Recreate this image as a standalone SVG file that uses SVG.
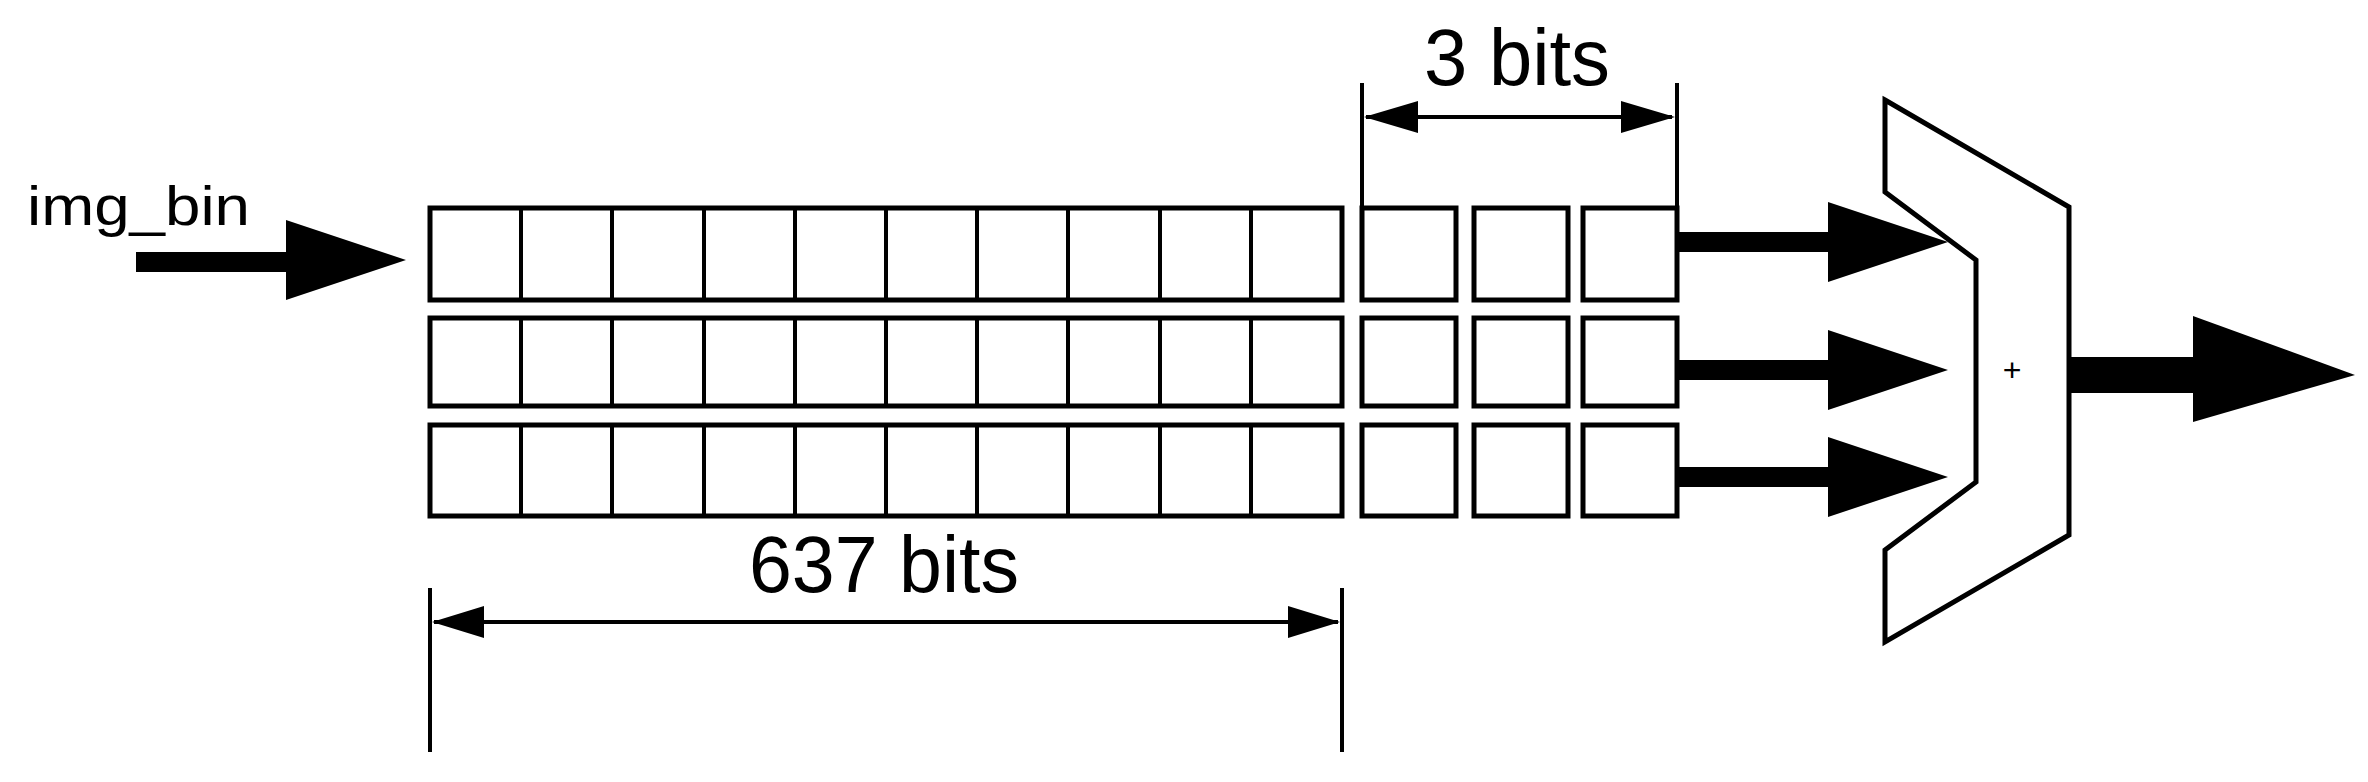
<svg xmlns="http://www.w3.org/2000/svg" width="2368" height="782" viewBox="0 0 2368 782">
<style>
.c{fill:#fff;stroke:#000;stroke-width:5}
.l{stroke:#000;stroke-width:4;fill:none}
.t{font-family:"Liberation Sans",Arial,sans-serif;fill:#000}
</style>
<defs>
<g id="row">
<rect class="c" x="430" y="0" width="912" height="1"/>
</g>
</defs>
<rect width="2368" height="782" fill="#fff"/>
<g id="register">
<rect class="c" x="430" y="208" width="912" height="92"/>
<rect class="c" x="430" y="318" width="912" height="88"/>
<rect class="c" x="430" y="425" width="912" height="91"/>
<path class="l" d="M521,208V300M612,208V300M704,208V300M795,208V300M886,208V300M977,208V300M1068,208V300M1160,208V300M1251,208V300
M521,318V406M612,318V406M704,318V406M795,318V406M886,318V406M977,318V406M1068,318V406M1160,318V406M1251,318V406
M521,425V516M612,425V516M704,425V516M795,425V516M886,425V516M977,425V516M1068,425V516M1160,425V516M1251,425V516"/>
</g>
<g id="last3">
<rect class="c" x="1362" y="208" width="94" height="92"/>
<rect class="c" x="1474" y="208" width="94" height="92"/>
<rect class="c" x="1583" y="208" width="94" height="92"/>
<rect class="c" x="1362" y="318" width="94" height="88"/>
<rect class="c" x="1474" y="318" width="94" height="88"/>
<rect class="c" x="1583" y="318" width="94" height="88"/>
<rect class="c" x="1362" y="425" width="94" height="91"/>
<rect class="c" x="1474" y="425" width="94" height="91"/>
<rect class="c" x="1583" y="425" width="94" height="91"/>
</g>
<g id="adder">
<polygon class="c" points="1885,100 2069,207 2069,535 1885,642 1885,550 1976,482 1976,260 1885,192"/>
<text class="t" x="2012" y="381" font-size="32" text-anchor="middle">+</text>
</g>
<g id="labels">
<text class="t" x="27" y="225" font-size="56" textLength="223" lengthAdjust="spacingAndGlyphs">img_bin</text>
<text class="t" x="1517" y="85" font-size="80" text-anchor="middle" textLength="186" lengthAdjust="spacingAndGlyphs">3 bits</text>
<text class="t" x="884" y="592" font-size="80" text-anchor="middle" textLength="270" lengthAdjust="spacingAndGlyphs">637 bits</text>
</g>
<g id="connectors">
<rect x="136" y="252" width="152" height="20"/>
<polygon points="286,220 406,260 286,300"/>
<rect x="1677" y="232" width="153" height="20"/>
<polygon points="1828,202 1948,242 1828,282"/>
<rect x="1677" y="360" width="153" height="20"/>
<polygon points="1828,330 1948,370 1828,410"/>
<rect x="1677" y="467" width="153" height="20"/>
<polygon points="1828,437 1948,477 1828,517"/>
<rect x="2069" y="357" width="126" height="36"/>
<polygon points="2193,316 2355,375 2193,422"/>
<path class="l" d="M1362,83V208M1677,83V208M1366,117H1672"/>
<polygon points="1364,117 1418,101 1418,133"/>
<polygon points="1675,117 1621,101 1621,133"/>
<path class="l" d="M430,588V752M1342,588V752M434,622H1338"/>
<polygon points="432,622 484,606 484,638"/>
<polygon points="1340,622 1288,606 1288,638"/>
</g>
</svg>
